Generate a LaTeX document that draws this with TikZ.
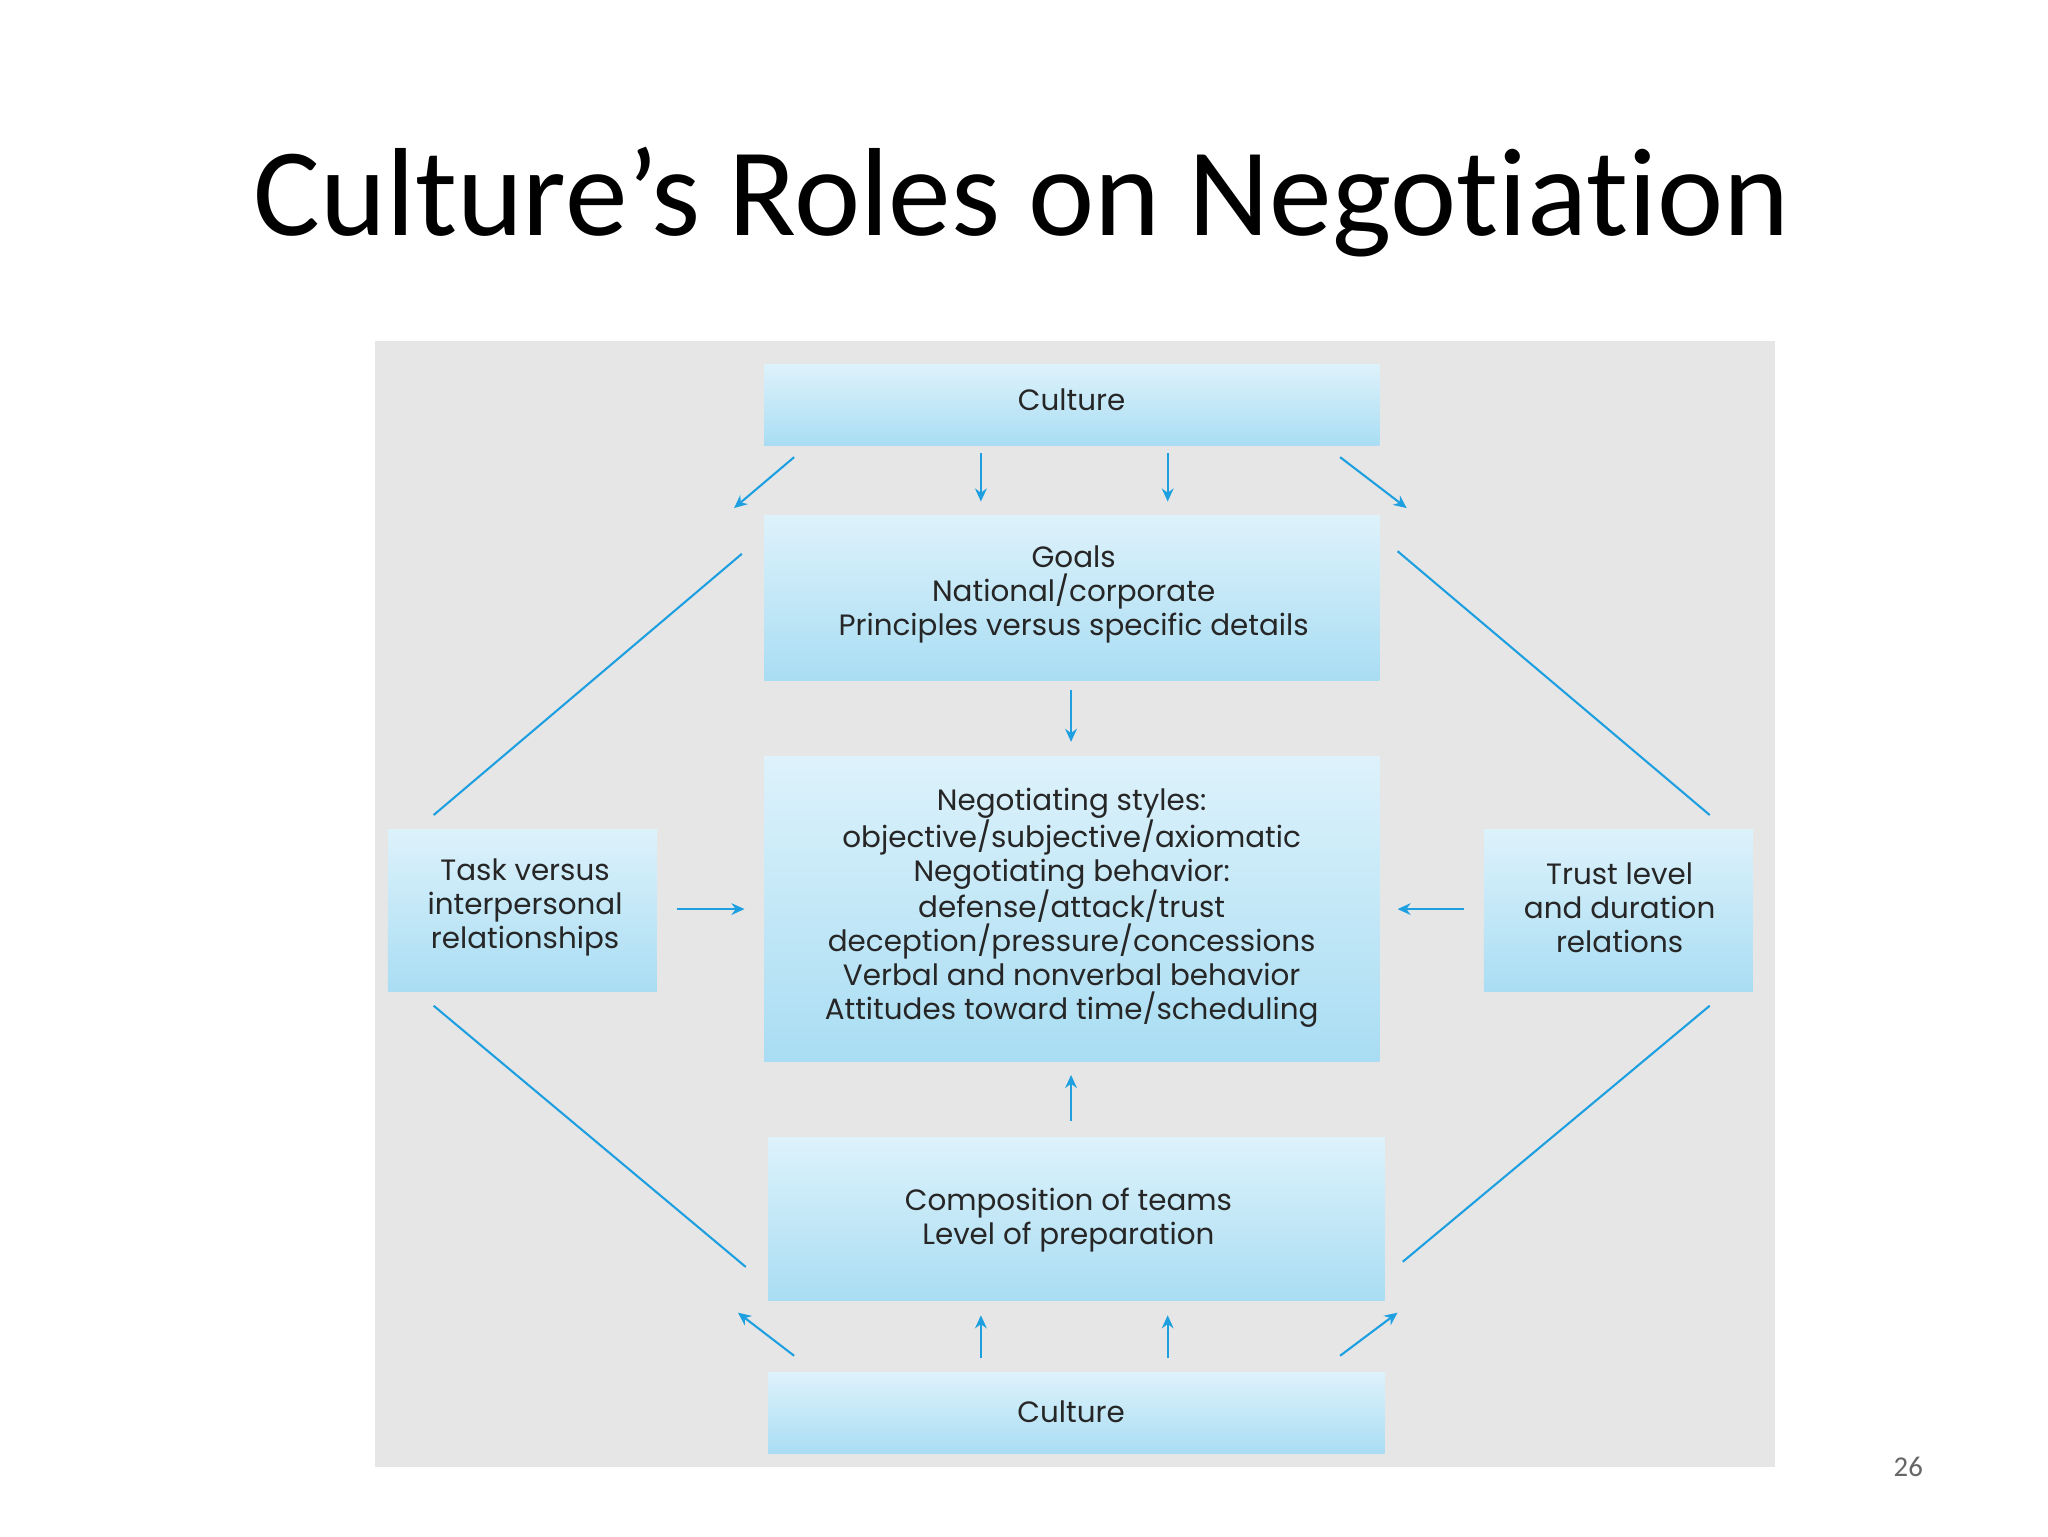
\documentclass[tikz,border=0pt]{standalone}
\usepackage{fontspec}
\setmainfont{Carlito}[Ligatures=NoCommon]
\newfontfamily\boxfont{Poppins}
\usetikzlibrary{arrows.meta}
\definecolor{arr}{HTML}{1EA0E0}
\definecolor{bg}{HTML}{E6E6E6}
\definecolor{bxtop}{HTML}{DDF2FB}
\definecolor{bxbot}{HTML}{A9DDF3}
\tikzset{
  bxfill/.style={top color=bxtop,bottom color=bxbot,draw=none},
  tx/.style={align=center,font=\boxfont\fontsize{22.5}{26}\selectfont,text=black!85},
  ar/.style={draw=arr,line width=1.6pt,-{Stealth[length=10pt,width=9pt]}},
  ln/.style={draw=arr,line width=1.6pt}
}
\begin{document}
\begin{tikzpicture}[x=1pt,y=-1pt]
\useasboundingbox (0,0) rectangle (1568,1176);
\fill[white] (0,0) rectangle (1568,1176);
\node[font=\fontsize{96}{100}\selectfont] (title) at (782,155) {Culture’s Roles on Negotiation};
\node[font=\fontsize{22}{24}\selectfont,text=black!60] (pg) at (1461,1123) {26};
\fill[bg] (287,261) rectangle (1359,1123);
\path[bxfill] (585,279) rectangle (1056,341); \node[tx] (c1) at (820.5,306) {Culture};
\path[bxfill] (585,395) rectangle (1056,521); \node[tx] (goals) at (822,455) {Goals\\National/corporate\\Principles versus specific details};
\path[bxfill] (585,579) rectangle (1056,813); \node[tx] (neg) at (820.5,695) {Negotiating styles:\\objective/subjective/axiomatic\\Negotiating behavior:\\defense/attack/trust\\deception/pressure/concessions\\Verbal and nonverbal behavior\\Attitudes toward time/scheduling};
\path[bxfill] (588,871) rectangle (1060,996); \node[tx] (comp) at (818,934) {Composition of teams\\Level of preparation};
\path[bxfill] (588,1051) rectangle (1060,1113); \node[tx] (c2) at (820,1081) {Culture};
\path[bxfill] (297,635) rectangle (503,759); \node[tx] (task) at (402,695) {Task versus\\interpersonal\\relationships};
\path[bxfill] (1136,635) rectangle (1342,759); \node[tx] (trust) at (1240,695) {Trust level\\and duration\\relations};
\coordinate (a1) at (608,350); \coordinate (b1) at (562,389);
\coordinate (a2) at (751,347); \coordinate (b2) at (751,384);
\coordinate (a3) at (894,347); \coordinate (b3) at (894,384);
\coordinate (a4) at (1026,350); \coordinate (b4) at (1077,389);
\coordinate (l1a) at (568,424); \coordinate (l1b) at (332,624);
\coordinate (l2a) at (1070,422); \coordinate (l2b) at (1309,624);
\coordinate (l3a) at (332,770); \coordinate (l3b) at (571,970);
\coordinate (l4a) at (1309,770); \coordinate (l4b) at (1074,966);
\coordinate (g1) at (820,528); \coordinate (g2) at (820,568);
\coordinate (t1) at (518,696); \coordinate (t2) at (570,696);
\coordinate (r1) at (1121,696); \coordinate (r2) at (1070,696);
\coordinate (k1) at (820,858); \coordinate (k2) at (820,823);
\coordinate (d1) at (608,1038); \coordinate (e1) at (565,1005);
\coordinate (d2) at (751,1040); \coordinate (e2) at (751,1007);
\coordinate (d3) at (894,1040); \coordinate (e3) at (894,1007);
\coordinate (d4) at (1026,1038); \coordinate (e4) at (1070,1005);
\foreach \p/\q in {a1/b1,a2/b2,a3/b3,a4/b4,g1/g2,t1/t2,r1/r2,k1/k2,d1/e1,d2/e2,d3/e3,d4/e4}
  \draw[ar] (\p) -- (\q);
\foreach \p/\q in {l1a/l1b,l2a/l2b,l3a/l3b,l4a/l4b}
  \draw[ln] (\p) -- (\q);
\end{tikzpicture}
\end{document}
